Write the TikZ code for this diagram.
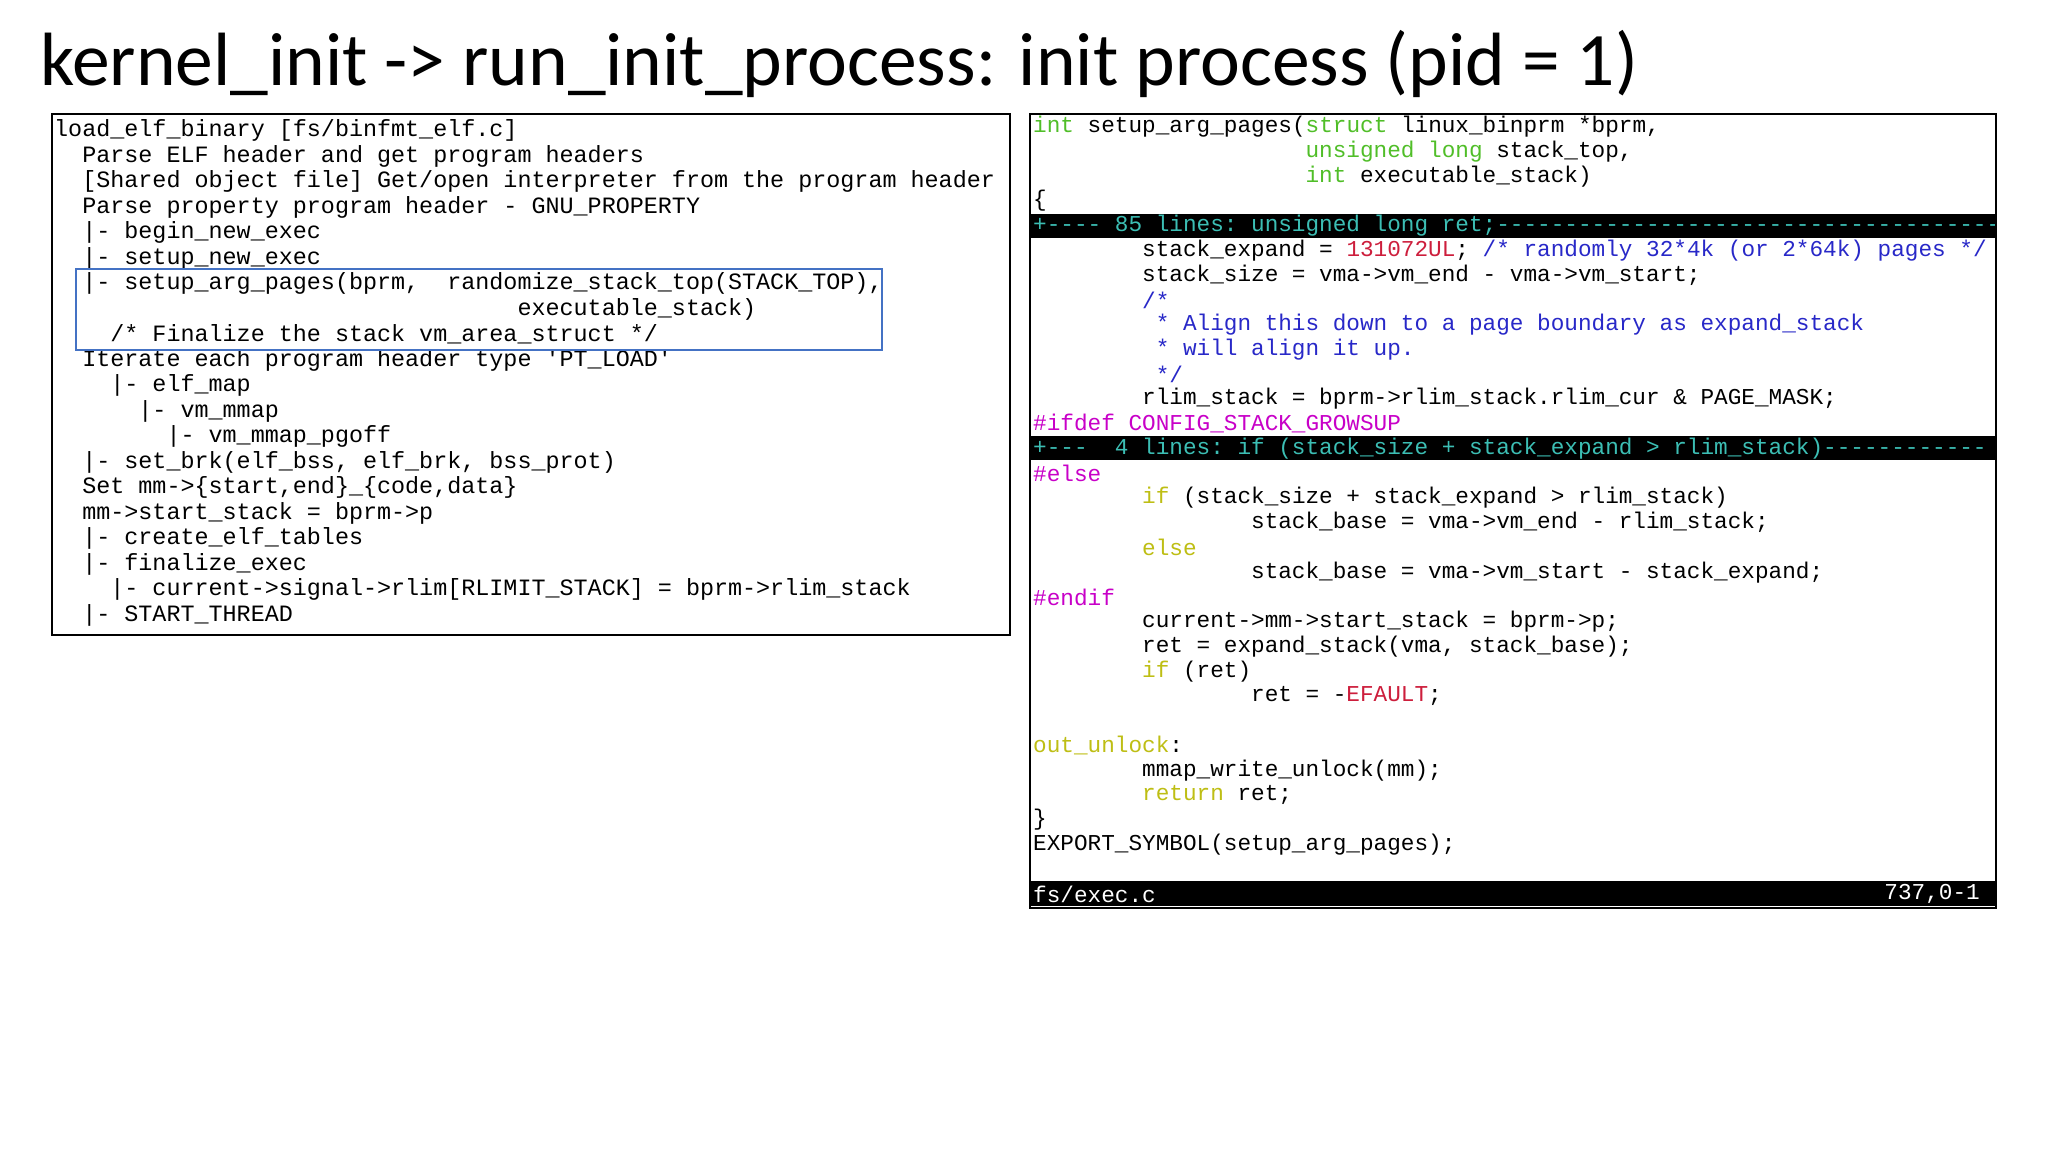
\documentclass[tikz,border=0pt]{standalone}
\usepackage{fontspec}
\setmainfont{Carlito}
\setmonofont{Liberation Mono}
\definecolor{kw}{RGB}{80,190,40}
\definecolor{ctl}{RGB}{190,190,20}
\definecolor{pp}{RGB}{200,0,200}
\definecolor{num}{RGB}{205,30,60}
\definecolor{cmt}{RGB}{40,40,200}
\definecolor{bar}{RGB}{60,190,180}
\definecolor{hl}{RGB}{68,114,196}
\newcommand\ind[1]{\hspace*{\dimexpr 0.6em*#1\relax}}
\newcommand\cKw[1]{\textcolor{kw}{#1}}
\newcommand\cCt[1]{\textcolor{ctl}{#1}}
\newcommand\cPp[1]{\textcolor{pp}{#1}}
\newcommand\cNu[1]{\textcolor{num}{#1}}
\newcommand\cCm[1]{\textcolor{cmt}{#1}}
\def\ly#1{130.6+25.5*(#1-1)}
\def\ry#1{126.7+24.75*(#1-1)}
\tikzset{
 lt/.style={anchor=west,inner sep=0pt,font=\fontsize{23.4}{24}\ttfamily},
 rt/.style={anchor=west,inner sep=0pt,font=\fontsize{22.7}{24}\ttfamily},
 frame/.style={draw=black,line width=1.6pt}
}
\begin{document}
\begin{tikzpicture}[x=1pt,y=-1pt]
\useasboundingbox[fill=white] (0,0) rectangle (2048,1152);
\node[anchor=base west,inner sep=0pt,font=\fontsize{75.5}{80}\selectfont] (title) at (40,85) {kernel\_init -> run\_init\_process: init process (pid = 1)};
% left box
\draw[frame] (52,114) rectangle (1010,635);
\node[lt] (l1) at (54,{\ly{1}}) {load\_elf\_binary [fs/binfmt\_elf.c]};
\node[lt] (l2) at (54,{\ly{2}}) {\ind{2}Parse ELF header and get program headers};
\node[lt] (l3) at (54,{\ly{3}}) {\ind{2}[Shared object file] Get/open interpreter from the program header};
\node[lt] (l4) at (54,{\ly{4}}) {\ind{2}Parse property program header - GNU\_PROPERTY};
\node[lt] (l5) at (54,{\ly{5}}) {\ind{2}|- begin\_new\_exec};
\node[lt] (l6) at (54,{\ly{6}}) {\ind{2}|- setup\_new\_exec};
\node[lt] (l7) at (54,{\ly{7}}) {\ind{2}|- setup\_arg\_pages(bprm,\ind{2}randomize\_stack\_top(STACK\_TOP),};
\node[lt] (l8) at (54,{\ly{8}}) {\ind{33}executable\_stack)};
\node[lt] (l9) at (54,{\ly{9}}) {\ind{4}/* Finalize the stack vm\_area\_struct */};
\node[lt] (l10) at (54,{\ly{10}}) {\ind{2}Iterate each program header type 'PT\_LOAD'};
\node[lt] (l11) at (54,{\ly{11}}) {\ind{4}|- elf\_map};
\node[lt] (l12) at (54,{\ly{12}}) {\ind{6}|- vm\_mmap};
\node[lt] (l13) at (54,{\ly{13}}) {\ind{8}|- vm\_mmap\_pgoff};
\node[lt] (l14) at (54,{\ly{14}}) {\ind{2}|- set\_brk(elf\_bss, elf\_brk, bss\_prot)};
\node[lt] (l15) at (54,{\ly{15}}) {\ind{2}Set mm->\{start,end\}\_\{code,data\}};
\node[lt] (l16) at (54,{\ly{16}}) {\ind{2}mm->start\_stack = bprm->p};
\node[lt] (l17) at (54,{\ly{17}}) {\ind{2}|- create\_elf\_tables};
\node[lt] (l18) at (54,{\ly{18}}) {\ind{2}|- finalize\_exec};
\node[lt] (l19) at (54,{\ly{19}}) {\ind{4}|- current->signal->rlim[RLIMIT\_STACK] = bprm->rlim\_stack};
\node[lt] (l20) at (54,{\ly{20}}) {\ind{2}|- START\_THREAD};
\draw[draw=hl,line width=2.4pt] (76,269) rectangle (882,350);
% right box
\fill[black] (1030,{\ry{5}-12}) rectangle (1996,{\ry{5}+12});
\fill[black] (1030,{\ry{14}-12}) rectangle (1996,{\ry{14}+12});
\fill[black] (1030,881) rectangle (1996,906);
\begin{scope}
\clip (1031,114) rectangle (1995,908);
\node[rt] (r1) at (1033,{\ry{1}}) {\cKw{int} setup\_arg\_pages(\cKw{struct} linux\_binprm *bprm,};
\node[rt] (r2) at (1033,{\ry{2}}) {\ind{20}\cKw{unsigned long} stack\_top,};
\node[rt] (r3) at (1033,{\ry{3}}) {\ind{20}\cKw{int} executable\_stack)};
\node[rt] (r4) at (1033,{\ry{4}}) {\{};
\node[rt,text=bar] (r5) at (1033,{\ry{5}}) {+---- 85 lines: unsigned long ret;-------------------------------------};
\node[rt] (r6) at (1033,{\ry{6}}) {\ind{8}stack\_expand = \cNu{131072UL}; \cCm{/* randomly 32*4k (or 2*64k) pages */}};
\node[rt] (r7) at (1033,{\ry{7}}) {\ind{8}stack\_size = vma->vm\_end - vma->vm\_start;};
\node[rt] (r8) at (1033,{\ry{8}}) {\ind{8}\cCm{/*}};
\node[rt] (r9) at (1033,{\ry{9}}) {\ind{9}\cCm{* Align this down to a page boundary as expand\_stack}};
\node[rt] (r10) at (1033,{\ry{10}}) {\ind{9}\cCm{* will align it up.}};
\node[rt] (r11) at (1033,{\ry{11}}) {\ind{9}\cCm{*/}};
\node[rt] (r12) at (1033,{\ry{12}}) {\ind{8}rlim\_stack = bprm->rlim\_stack.rlim\_cur \& PAGE\_MASK;};
\node[rt] (r13) at (1033,{\ry{13}}) {\cPp{\#ifdef CONFIG\_STACK\_GROWSUP}};
\node[rt,text=bar] (r14) at (1033,{\ry{14}}) {+---\ind{2}4 lines: if (stack\_size + stack\_expand > rlim\_stack)------------};
\node[rt] (r15) at (1033,{\ry{15}}) {\cPp{\#else}};
\node[rt] (r16) at (1033,{\ry{16}}) {\ind{8}\cCt{if} (stack\_size + stack\_expand > rlim\_stack)};
\node[rt] (r17) at (1033,{\ry{17}}) {\ind{16}stack\_base = vma->vm\_end - rlim\_stack;};
\node[rt] (r18) at (1033,{\ry{18}}) {\ind{8}\cCt{else}};
\node[rt] (r19) at (1033,{\ry{19}}) {\ind{16}stack\_base = vma->vm\_start - stack\_expand;};
\node[rt] (r20) at (1033,{\ry{20}}) {\cPp{\#endif}};
\node[rt] (r21) at (1033,{\ry{21}}) {\ind{8}current->mm->start\_stack = bprm->p;};
\node[rt] (r22) at (1033,{\ry{22}}) {\ind{8}ret = expand\_stack(vma, stack\_base);};
\node[rt] (r23) at (1033,{\ry{23}}) {\ind{8}\cCt{if} (ret)};
\node[rt] (r24) at (1033,{\ry{24}}) {\ind{16}ret = -\cNu{EFAULT};};
\node[rt] (r26) at (1033,{\ry{26}}) {\cCt{out\_unlock}:};
\node[rt] (r27) at (1033,{\ry{27}}) {\ind{8}mmap\_write\_unlock(mm);};
\node[rt] (r28) at (1033,{\ry{28}}) {\ind{8}\cCt{return} ret;};
\node[rt] (r29) at (1033,{\ry{29}}) {\}};
\node[rt] (r30) at (1033,{\ry{30}}) {EXPORT\_SYMBOL(setup\_arg\_pages);};
\node[rt,text=white] (r32) at (1033,{\ry{32}}) {fs/exec.c};
\node[rt,text=white,anchor=east] (r32b) at (1980,{\ry{32}}) {737,0-1};
\end{scope}
\draw[frame] (1030,114) rectangle (1996,908);
\end{tikzpicture}
\end{document}
